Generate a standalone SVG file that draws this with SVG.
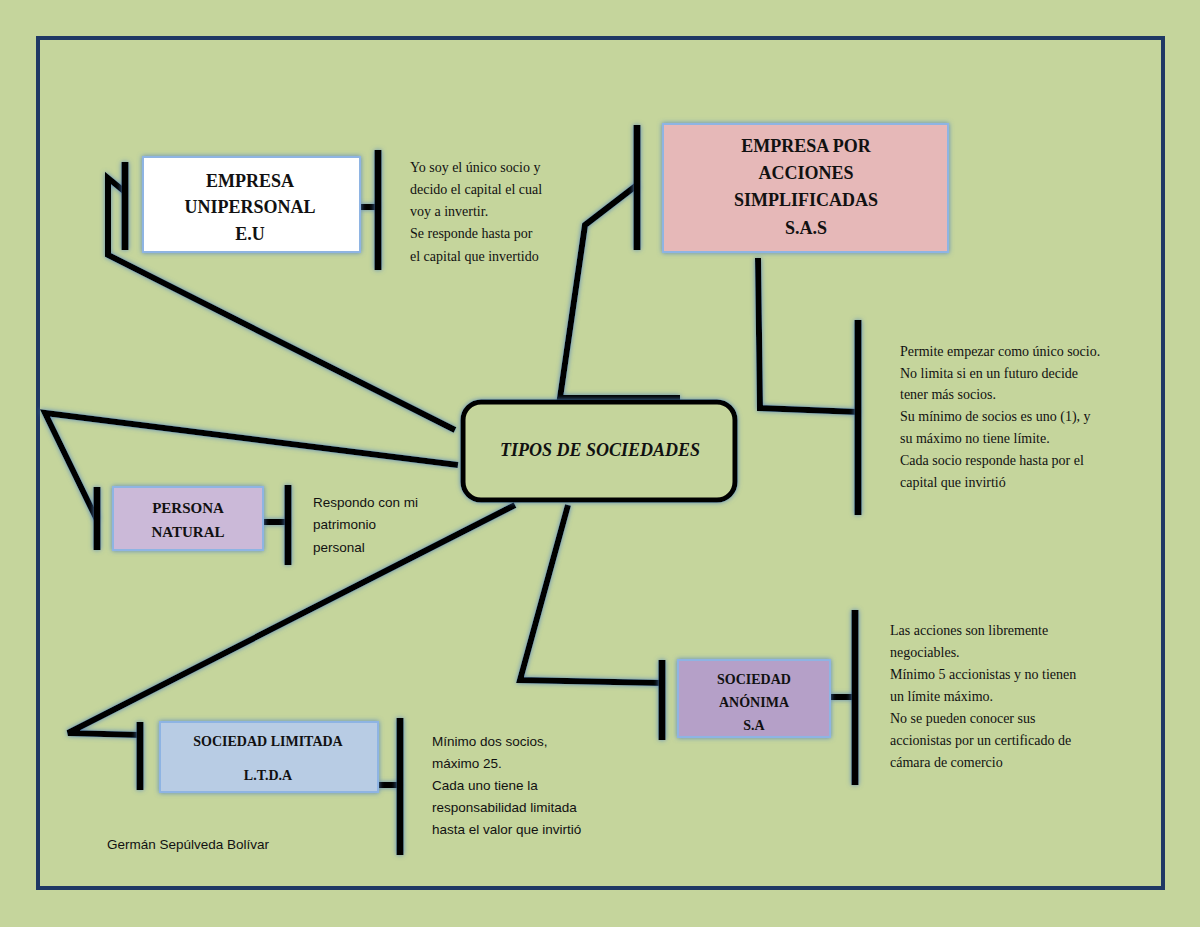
<svg xmlns="http://www.w3.org/2000/svg" width="1200" height="927" viewBox="0 0 1200 927">
<defs>
<filter id="glow" filterUnits="userSpaceOnUse" x="0" y="0" width="1200" height="927"><feDropShadow dx="0" dy="0" stdDeviation="2.5" flood-color="#4f81bd" flood-opacity="0.9"/></filter>
</defs>
<style>
.c{stroke:#000;stroke-width:6;fill:none;stroke-linejoin:miter;filter:url(#glow)}
.b{stroke:#000;stroke-width:7;fill:none;filter:url(#glow)}
.t{font-family:"Liberation Serif",serif;font-weight:bold;fill:#111;text-anchor:middle}
.d{font-family:"Liberation Serif",serif;font-size:14px;fill:#111}
.s{font-family:"Liberation Sans",sans-serif;font-size:13.5px;fill:#111}
</style>
<rect width="1200" height="927" fill="#c5d59c"/>
<rect x="38" y="38" width="1125" height="850" fill="none" stroke="#1f3864" stroke-width="4"/>
<g id="connectors">
<polyline class="c" points="455,430 108,255 108,178 125,192"/>
<line class="b" x1="125" y1="162" x2="125" y2="250" stroke-width="5"/>
<polyline class="c" points="360,207 378,207"/>
<line class="b" x1="378" y1="150" x2="378" y2="270"/>
<polyline class="c" points="680,398 560,398 585,225 637,185"/>
<line class="b" x1="637" y1="125" x2="637" y2="250"/>
<polyline class="c" points="758,258 760,408 858,412"/>
<line class="b" x1="858" y1="320" x2="858" y2="515"/>
<polyline class="c" points="458,465 45,413 97,520"/>
<line class="b" x1="97" y1="487" x2="97" y2="550"/>
<polyline class="c" points="263,522 288,522"/>
<line class="b" x1="288" y1="485" x2="288" y2="565"/>
<polyline class="c" points="515,505 68,733 140,735"/>
<line class="b" x1="140" y1="722" x2="140" y2="790"/>
<polyline class="c" points="378,785 400,785"/>
<line class="b" x1="400" y1="718" x2="400" y2="855"/>
<polyline class="c" points="568,505 520,680 662,683"/>
<line class="b" x1="662" y1="660" x2="662" y2="740"/>
<polyline class="c" points="830,697 855,697"/>
<line class="b" x1="855" y1="610" x2="855" y2="785"/>
</g>
<g id="central">
<rect x="463" y="402" width="272" height="98" rx="18" fill="#c5d59c" stroke="#000" stroke-width="5" filter="url(#glow)"/>
<text x="600" y="456" class="t" font-size="18" font-style="italic">TIPOS DE SOCIEDADES</text>
</g>
<g id="eu">
<rect x="143" y="157" width="217" height="95" fill="#fff" stroke="#8eb4e3" stroke-width="2" filter="url(#glow)"/>
<text class="t" font-size="18" x="250" y="187">EMPRESA</text>
<text class="t" font-size="18" x="250" y="213">UNIPERSONAL</text>
<text class="t" font-size="18" x="250" y="240">E.U</text>
<text class="d" x="410" y="172">Yo soy el único socio y</text>
<text class="d" x="410" y="194">decido el capital el cual</text>
<text class="d" x="410" y="216">voy a invertir.</text>
<text class="d" x="410" y="238">Se responde hasta por</text>
<text class="d" x="410" y="261">el capital que invertido</text>
</g>
<g id="sas">
<rect x="663" y="124" width="285" height="128" fill="#e6b8b8" stroke="#8eb4e3" stroke-width="2" filter="url(#glow)"/>
<text class="t" font-size="18" x="806" y="152">EMPRESA POR</text>
<text class="t" font-size="18" x="806" y="179">ACCIONES</text>
<text class="t" font-size="18" x="806" y="206">SIMPLIFICADAS</text>
<text class="t" font-size="18" x="806" y="234">S.A.S</text>
<text class="d" x="900" y="356">Permite empezar como único socio.</text>
<text class="d" x="900" y="378">No limita si en un futuro decide</text>
<text class="d" x="900" y="399">tener más socios.</text>
<text class="d" x="900" y="421">Su mínimo de socios es uno (1), y</text>
<text class="d" x="900" y="443">su máximo no tiene límite.</text>
<text class="d" x="900" y="465">Cada socio responde hasta  por el</text>
<text class="d" x="900" y="487">capital que invirtió</text>
</g>
<g id="persona">
<rect x="113" y="487" width="150" height="63" fill="#cbb9d8" stroke="#8eb4e3" stroke-width="2" filter="url(#glow)"/>
<text class="t" font-size="15" x="188" y="513">PERSONA</text>
<text class="t" font-size="15" x="188" y="537">NATURAL</text>
<text class="s" x="313" y="507">Respondo con mi</text>
<text class="s" x="313" y="529">patrimonio</text>
<text class="s" x="313" y="552">personal</text>
</g>
<g id="anonima">
<rect x="678" y="660" width="152" height="77" fill="#b5a0c8" stroke="#8eb4e3" stroke-width="2" filter="url(#glow)"/>
<text class="t" font-size="14" x="754" y="684">SOCIEDAD</text>
<text class="t" font-size="14" x="754" y="707">ANÓNIMA</text>
<text class="t" font-size="14" x="754" y="730">S.A</text>
<text class="d" x="890" y="635">Las acciones son libremente</text>
<text class="d" x="890" y="657">negociables.</text>
<text class="d" x="890" y="679">Mínimo 5 accionistas y no tienen</text>
<text class="d" x="890" y="701">un límite máximo.</text>
<text class="d" x="890" y="723">No se pueden conocer sus</text>
<text class="d" x="890" y="745">accionistas por un certificado de</text>
<text class="d" x="890" y="767">cámara de comercio</text>
</g>
<g id="limitada">
<rect x="160" y="722" width="218" height="70" fill="#b8cce4" stroke="#8eb4e3" stroke-width="2" filter="url(#glow)"/>
<text class="t" font-size="14" x="268" y="746">SOCIEDAD LIMITADA</text>
<text class="t" font-size="14" x="268" y="780">L.T.D.A</text>
<text class="s" x="432" y="746">Mínimo dos socios,</text>
<text class="s" x="432" y="768">máximo 25.</text>
<text class="s" x="432" y="790">Cada  uno tiene la</text>
<text class="s" x="432" y="812">responsabilidad limitada</text>
<text class="s" x="432" y="834">hasta el valor que invirtió</text>
</g>
<text class="s" x="107" y="849" font-size="13">Germán Sepúlveda Bolívar</text>
</svg>
